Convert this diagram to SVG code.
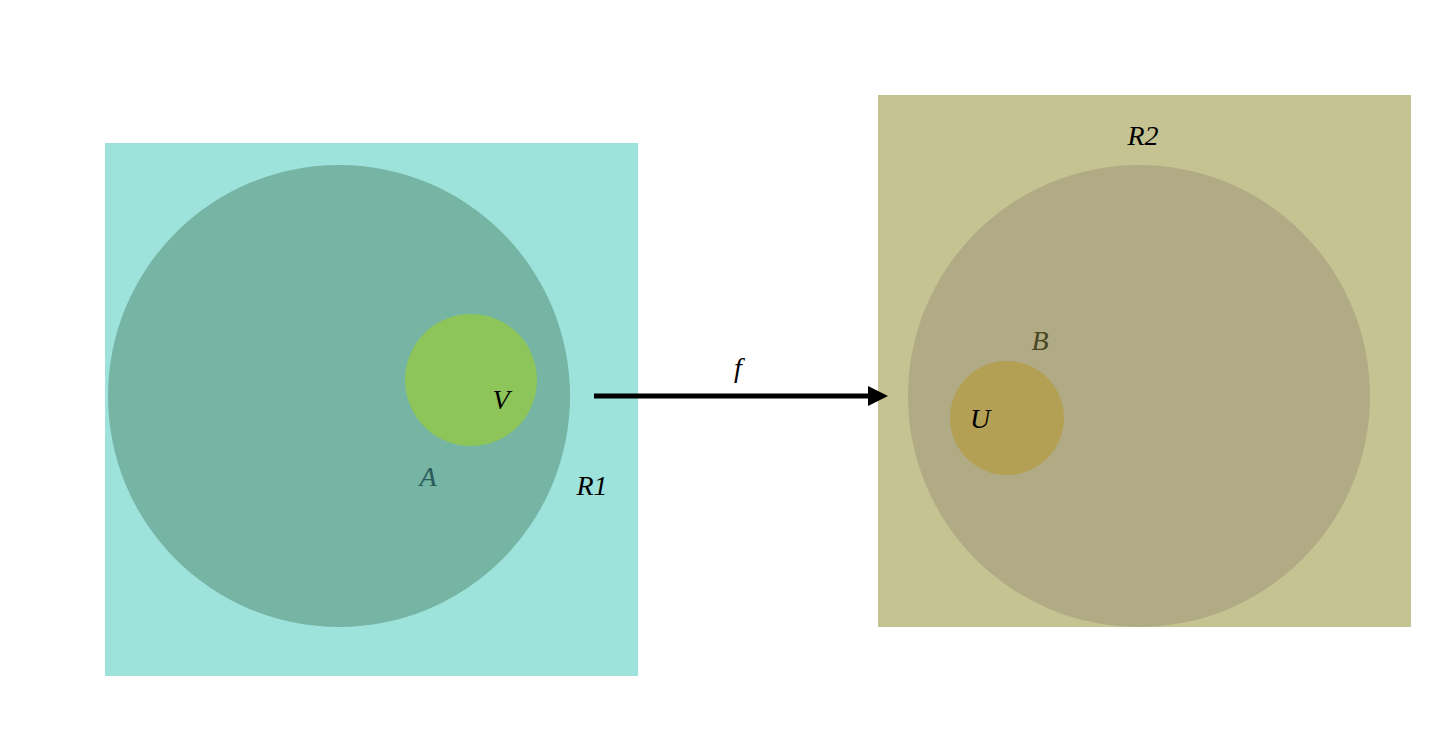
<svg xmlns="http://www.w3.org/2000/svg" width="1454" height="730" viewBox="0 0 1454 730">
<style>
text{font-family:"Liberation Serif","DejaVu Serif",serif;font-style:italic;font-size:28px;text-anchor:middle}
</style>
<defs><marker id="ah" markerWidth="4" markerHeight="4" refX="0" refY="2" orient="auto" markerUnits="strokeWidth"><path d="M0,0L4,2L0,4z" fill="#000"/></marker></defs>
<rect width="1454" height="730" fill="#fff"/>
<g id="R1"><rect x="105" y="143" width="533" height="533" fill="#9de3dc"/><text x="592" y="495">R1</text></g>
<g id="A"><circle cx="339" cy="396" r="231" fill="#76b4a4"/><text x="428" y="486" fill="#2a5a5a">A</text></g>
<g id="V"><circle cx="471" cy="380" r="66" fill="#8dc55a"/><text x="501" y="409">V</text></g>
<g id="R2"><rect x="878" y="95" width="533" height="532" fill="#c5c391"/><text x="1143" y="145">R2</text></g>
<g id="B"><circle cx="1139" cy="396" r="231" fill="#b0ab85"/><text x="1040" y="350" fill="#4a4620">B</text></g>
<g id="U"><circle cx="1007" cy="418" r="57" fill="#b3a055"/><text x="980" y="428">U</text></g>
<g id="connectors"><line x1="594" y1="396" x2="868" y2="396" stroke="#000" stroke-width="5" marker-end="url(#ah)"/><text x="738" y="377">f</text></g>
</svg>
